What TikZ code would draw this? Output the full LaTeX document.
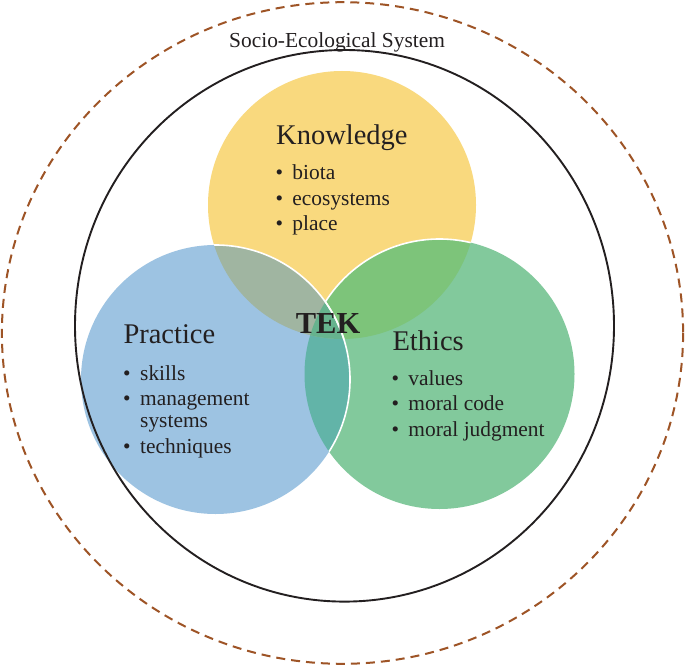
\documentclass[tikz,border=0pt]{standalone}
\usepackage{fontspec}
\setmainfont{Liberation Serif}
\definecolor{cY}{RGB}{249,217,126}
\definecolor{cB}{RGB}{157,195,226}
\definecolor{cG}{RGB}{130,201,156}
\definecolor{cYB}{RGB}{160,181,161}
\definecolor{cYG}{RGB}{125,196,122}
\definecolor{cBG}{RGB}{98,180,168}
\definecolor{cYBG}{RGB}{102,179,142}
\definecolor{ink}{RGB}{35,31,32}
\definecolor{brownd}{RGB}{158,84,38}
\newcommand{\itm}[1]{\makebox[17pt][l]{\textbullet}#1}
\begin{document}
\begin{tikzpicture}[x=1pt,y=-1pt,
  ttl/.style={inner sep=0pt,anchor=base west,text=ink,font=\fontsize{28.5}{30}\selectfont},
  itmtxt/.style={inner sep=0pt,anchor=base west,text=ink,font=\fontsize{21.4}{24}\selectfont},
  wedge/.style={draw=white,line width=1.6pt}]
\useasboundingbox (0,0) rectangle (685,666);
\fill[white] (0,0) rectangle (685,666);
% circles centres
\coordinate (Yc) at (342,205);
\coordinate (Bc) at (215.5,379.5);
\coordinate (Gc) at (439.5,374);
\def\rY{134}\def\rB{134.5}\def\rG{135}
% yellow
\fill[cY] (Yc) circle[radius=\rY];
% green
\fill[cG] (Gc) circle[radius=\rG];
\begin{scope}
  \clip (Yc) circle[radius=\rY];
  \fill[cYG] (Gc) circle[radius=\rG];
  \draw[wedge] (Gc) circle[radius=\rG];
\end{scope}
% blue
\fill[cB] (Bc) circle[radius=\rB];
\begin{scope}
  \clip (Gc) circle[radius=\rG];
  \fill[cBG] (Bc) circle[radius=\rB];
\end{scope}
\begin{scope}
  \clip (Yc) circle[radius=\rY];
  \fill[cYB] (Bc) circle[radius=\rB];
  \clip (Gc) circle[radius=\rG];
  \fill[cYBG] (Bc) circle[radius=\rB];
\end{scope}
\begin{scope}
  \clip (Yc) circle[radius=\rY];
  \draw[wedge] (Bc) circle[radius=\rB];
\end{scope}
\begin{scope}
  \clip (Gc) circle[radius=\rG];
  \draw[wedge] (Bc) circle[radius=\rB];
\end{scope}
% system ellipses
\draw[ink,line width=1.9pt] (344.5,325.8) ellipse[x radius=269.5,y radius=275.8];
\draw[brownd,line width=2pt,dash pattern=on 9pt off 6pt] (342.5,333) ellipse[x radius=340.6,y radius=330.8];
% texts
\node[itmtxt] (ses) at (229,48) {Socio-Ecological System};
\node[ttl] (know) at (276,144.3) {Knowledge};
\node[itmtxt] (k1) at (275.3,179.3) {\itm{biota}};
\node[itmtxt] (k2) at (275.3,205.2) {\itm{ecosystems}};
\node[itmtxt] (k3) at (275.3,230.8) {\itm{place}};
\node[ttl] (prac) at (123.3,343.3) {Practice};
\node[itmtxt] (p1) at (123,380) {\itm{skills}};
\node[itmtxt] (p2) at (123,405) {\itm{management}};
\node[itmtxt] (p2b) at (140,427.5) {systems};
\node[itmtxt] (p3) at (123,453.3) {\itm{techniques}};
\node[ttl] (eth) at (392.3,350) {Ethics};
\node[itmtxt] (e1) at (391.3,385) {\itm{values}};
\node[itmtxt] (e2) at (391.3,410.8) {\itm{moral code}};
\node[itmtxt] (e3) at (391.3,436.7) {\itm{moral judgment}};
\node[inner sep=0pt,anchor=base west,text=ink,font=\fontsize{30.5}{32}\selectfont\bfseries] (tek) at (295.7,333.3) {TEK};
\end{tikzpicture}
\end{document}
